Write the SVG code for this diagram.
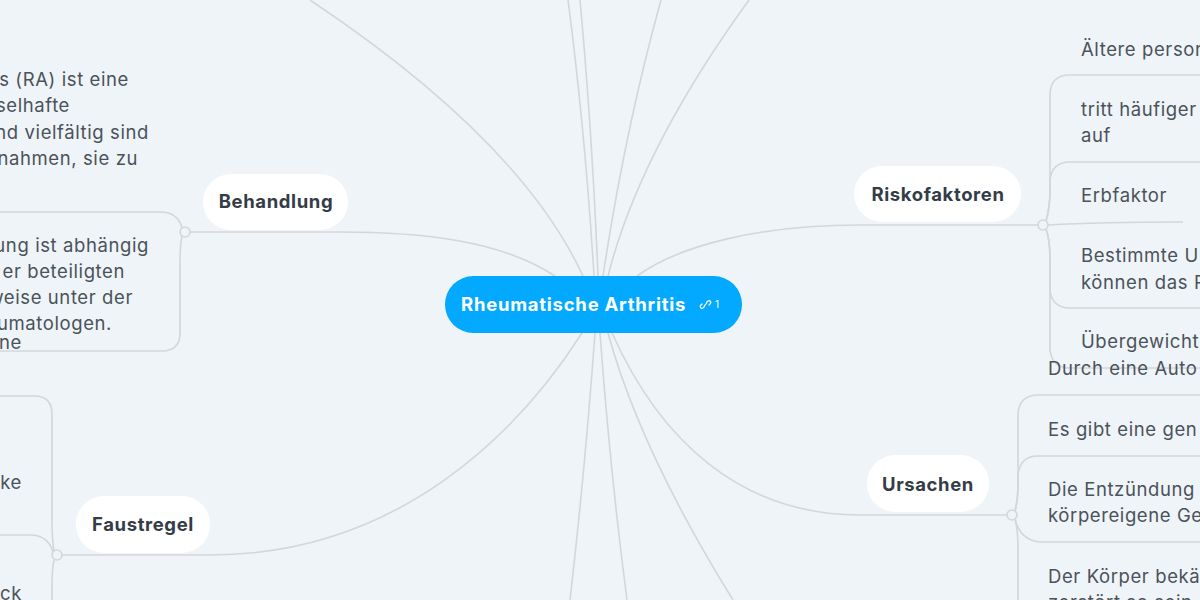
<svg xmlns="http://www.w3.org/2000/svg" width="1200" height="600" viewBox="0 0 1200 600">
<style>
.bg{fill:#eff4f8}
.c{fill:none;stroke:#d3d6da;stroke-width:1.6}
.dot{fill:#eff4f8;stroke:#d3d6da;stroke-width:1.6}
.node{fill:#ffffff}
.title{font-family:Inter,"Liberation Sans",sans-serif;font-size:18.5px;letter-spacing:0.6px;font-weight:700;fill:#343d46;text-anchor:middle}
.t{font-family:Inter,"Liberation Sans",sans-serif;font-size:18.5px;letter-spacing:0.6px;fill:#4a525a}
.r{text-anchor:end}
</style>
<rect class="bg" x="0" y="0" width="1200" height="600"/>
<g id="connectors">
<path class="c" d="M583,276 Q520,140 310,0"/>
<path class="c" d="M594,276 Q585,130 568,0"/>
<path class="c" d="M598,276 Q592,130 580,0"/>
<path class="c" d="M603,276 Q625,130 661,0"/>
<path class="c" d="M608,276 Q640,150 749,0"/>
<path class="c" d="M637,276 C680,245 760,225 860,225 L1038,225"/>
<path class="c" d="M555,276 C500,240 420,232 340,232 L190,232"/>
<path class="c" d="M582,333 C520,430 400,555 210,555 L62,555"/>
<path class="c" d="M595,333 Q585,470 570,600"/>
<path class="c" d="M600,333 Q610,470 627,600"/>
<path class="c" d="M608,333 Q640,450 733,600"/>
<path class="c" d="M612,333 C660,440 740,515 860,515 L1007,515"/>
<path class="c" d="M182,228 Q178,212 160,212 L0,212"/>
<path class="c" d="M182,236 Q180,245 180,262 L180,333 Q180,351 162,351 L0,351"/>
<path class="c" d="M54,551 Q52,540 52,520 L52,414 Q52,396 34,396 L0,396"/>
<path class="c" d="M53,552 Q48,535 30,535 L0,535"/>
<path class="c" d="M54,560 Q52,570 52,585 L52,600"/>
<path class="c" d="M1046,221 Q1050,210 1050,190 L1050,95 Q1050,75 1070,75 L1200,75"/>
<path class="c" d="M1046,221 Q1050,205 1050,190 L1050,180 Q1052,162 1070,162 L1200,162"/>
<path class="c" d="M1048,225 Q1100,222 1183,222"/>
<path class="c" d="M1046,229 Q1050,240 1050,260 L1050,290 Q1052,308 1070,308 L1200,308"/>
<path class="c" d="M1046,229 Q1050,240 1050,260 L1050,350 Q1052,368 1070,368 L1200,368"/>
<path class="c" d="M1015,511 Q1018,500 1018,480 L1018,413 Q1020,395 1038,395 L1200,395"/>
<path class="c" d="M1015,511 Q1018,500 1018,490 L1018,475 Q1020,456 1038,456 L1200,456"/>
<path class="c" d="M1015,519 Q1020,540 1040,542 L1200,542"/>
<path class="c" d="M1015,519 Q1018,530 1018,548 L1018,600"/>
</g>
<circle class="dot" cx="185" cy="232" r="5"/>
<circle class="dot" cx="57" cy="555" r="5"/>
<circle class="dot" cx="1043" cy="225" r="5"/>
<circle class="dot" cx="1012" cy="515" r="5"/>
<g id="center">
<rect x="445" y="276" width="297" height="57" rx="28.5" fill="#02a9fe"/>
<text x="461" y="311" font-family="Inter,'Liberation Sans',sans-serif" font-size="18.5" letter-spacing="0.75" font-weight="700" fill="#ffffff">Rheumatische Arthritis</text>
<g fill="none" stroke="#ffffff" stroke-width="1.2" stroke-linecap="round">
<path d="M704.5,306.5 l-1.5,1.5 a1.8,1.8 0 0 1 -2.5,-2.5 l1.5,-1.5"/>
<path d="M706.5,302.5 l1.5,-1.5 a1.8,1.8 0 0 1 2.5,2.5 l-1.5,1.5"/>
<path d="M704.2,305.8 l2.6,-2.6"/>
</g>
<text x="715" y="308" font-family="Inter,'Liberation Sans',sans-serif" font-size="10" fill="#ffffff">1</text>
</g>
<g id="behandlung">
<rect class="node" x="203" y="174" width="145" height="56" rx="28"/>
<text class="title" x="276" y="208">Behandlung</text>
</g>
<g id="faustregel">
<rect class="node" x="76" y="496" width="134" height="57" rx="28"/>
<text class="title" x="143" y="531">Faustregel</text>
</g>
<g id="riskofaktoren">
<rect class="node" x="854" y="166" width="167" height="56" rx="28"/>
<text class="title" x="938" y="201">Riskofaktoren</text>
</g>
<g id="ursachen">
<rect class="node" x="867" y="455" width="122" height="57" rx="28"/>
<text class="title" x="928" y="491">Ursachen</text>
</g>
<g id="behandlung-children">
<text class="t r" x="129" y="86">s (RA) ist eine</text>
<text class="t r" x="70" y="112">selhafte</text>
<text class="t r" x="149" y="139">nd vielfältig sind</text>
<text class="t r" x="138" y="165">nahmen, sie zu</text>
<text class="t r" x="149" y="252">ung ist abhängig</text>
<text class="t r" x="125" y="278">er beteiligten</text>
<text class="t r" x="133" y="304">weise unter der</text>
<text class="t r" x="112" y="330">umatologen.</text>
<text class="t r" x="22" y="349">ne</text>
</g>
<g id="faustregel-children">
<text class="t r" x="22" y="489">ke</text>
<text class="t r" x="22" y="600">ck</text>
</g>
<g id="riskofaktoren-children">
<text class="t" x="1081" y="56">Ältere person</text>
<text class="t" x="1081" y="116">tritt häufiger</text>
<text class="t" x="1081" y="142">auf</text>
<text class="t" x="1081" y="202">Erbfaktor</text>
<text class="t" x="1081" y="262">Bestimmte U</text>
<text class="t" x="1081" y="289">können das R</text>
<text class="t" x="1081" y="348">Übergewicht</text>
</g>
<g id="ursachen-children">
<text class="t" x="1048" y="375">Durch eine Auto</text>
<text class="t" x="1048" y="436">Es gibt eine gen</text>
<text class="t" x="1048" y="496">Die Entzündung</text>
<text class="t" x="1048" y="522">körpereigene Ge</text>
<text class="t" x="1048" y="583">Der Körper bekä</text>
<text class="t" x="1048" y="609">zerstört so sein</text>
</g>
</svg>
